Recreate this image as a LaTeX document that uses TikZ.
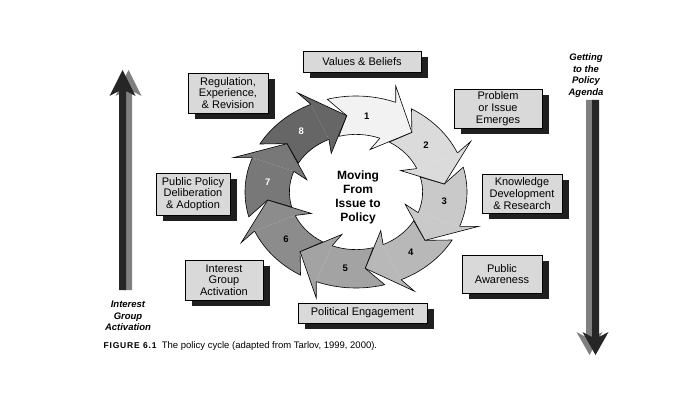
\documentclass[tikz,border=0pt]{standalone}
\usepackage{fontspec}
\newfontfamily\arial{Liberation Sans}
\usetikzlibrary{shadows}

\begin{document}
\begin{tikzpicture}[x=1pt,y=-1pt,
    box/.style={draw,fill=black!15,line width=0.6pt,align=center,inner sep=0pt,
      font=\arial\fontsize{11}{11.7}\selectfont,
      drop shadow={shadow xshift=7pt,shadow yshift=-6pt,fill=black!88,opacity=1}},
    tag/.style={align=center,font=\arial\bfseries\itshape\fontsize{9.5}{11.7}\selectfont},
    num/.style={font=\arial\bfseries\fontsize{9.5}{10}\selectfont}]
  \useasboundingbox[fill=white] (0,0) rectangle (690,414);
  % the two side arrows
  \foreach \cx/\c in {128.5/black!50,122.5/black!85}
    \fill[\c] ({\cx-3.5},290)--({\cx-3.5},91)--({\cx-13},96)--(\cx,70)--({\cx+13},96)--({\cx+3.5},91)--({\cx+3.5},290)--cycle;
  \foreach \cx/\c in {589.5/black!50,595.5/black!85}
    \fill[\c] ({\cx-3.5},100)--({\cx-3.5},337)--({\cx-13},332)--(\cx,355)--({\cx+13},332)--({\cx+3.5},337)--({\cx+3.5},100)--cycle;
  \node[tag] (up) at (128,316) {Interest\\Group\\Activation};
  \node[tag] (down) at (586,75.5) {Getting\\to the\\Policy\\Agenda};
  % the cycle
  \begin{scope}[shift={(356,192)},x=111pt,y=96pt,line width=0.6pt]
    \foreach \k/\c in {1/black!5,2/black!14,3/black!21,4/black!28,5/black!36,6/black!45,7/black!53,8/black!60}{
      \pgfmathsetmacro\T{105-45*(\k-1)}
      \draw[fill=\c] (\T-36:1) arc[start angle=\T-36,end angle=\T,radius=1]
        --(\T-9:0.8)--(\T:0.6) arc[start angle=\T,end angle=\T-36,radius=0.6];
    }
    \foreach \k/\c in {1/black!5,2/black!14,3/black!21,4/black!28,5/black!36,6/black!45,7/black!53,8/black!60}{
      \pgfmathsetmacro\T{105-45*(\k-1)}
      \draw[fill=\c] (\T-36:1)--(\T-33:1.16)--(\T-54:0.8)--(\T-31:0.46)--(\T-36:0.6);
    }
    \foreach \k/\tc in {1/black,2/black,3/black,4/black,5/black,6/black,7/white,8/white}{
      \pgfmathsetmacro\T{105-45*(\k-1)}
      \node[num,text=\tc] (n\k) at (\T-22:0.8) {\k};
    }
  \end{scope}
  \node[align=center,font=\arial\bfseries\fontsize{12}{14}\selectfont] (hub) at (358,197) {Moving\\From\\Issue to\\Policy};
  % the boxes
  \node[box,minimum width=118,minimum height=21] (values) at (362,61.5) {Values \& Beliefs};
  \node[box,minimum width=80,minimum height=40] (revision) at (228,93) {Regulation,\\Experience,\\\& Revision};
  \node[box,minimum width=88,minimum height=39] (problem) at (498,108.5) {Problem\\or Issue\\Emerges};
  \node[box,minimum width=80,minimum height=39] (research) at (522,193.5) {Knowledge\\Development\\\& Research};
  \node[box,minimum width=80,minimum height=38] (awareness) at (502,274) {Public\\Awareness};
  \node[box,minimum width=74,minimum height=42] (adoption) at (193,194) {Public Policy\\Deliberation\\\& Adoption};
  \node[box,minimum width=78,minimum height=40] (interest) at (224,280) {Interest\\Group\\Activation};
  \node[box,minimum width=129,minimum height=20] (engagement) at (362.5,313) {Political Engagement};
  % caption
  \node[anchor=west,font=\arial\fontsize{9.5}{11}\selectfont] (caption) at (100,346)
    {{\bfseries\addfontfeatures{LetterSpace=10}\fontsize{8.5}{11}\selectfont FIGURE 6.1}\ \ The policy cycle (adapted from Tarlov, 1999, 2000).};
\end{tikzpicture}
\end{document}
